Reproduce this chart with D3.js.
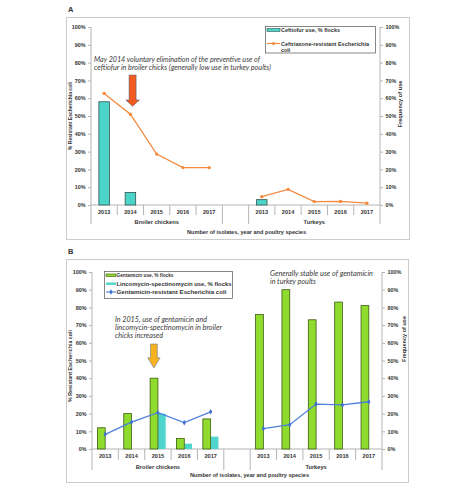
<!DOCTYPE html>
<html><head><meta charset="utf-8">
<script src="https://cdn.jsdelivr.net/npm/d3@7"></script>
<style>body{margin:0;background:#fff} svg{display:block}</style>
</head><body>
<svg id="c" width="474" height="491"></svg>
<script>
// ---------- DATA ----------
const years = ["2013","2014","2015","2016","2017"];
const groups = ["Broiler chickens","Turkeys"];
const yTicks = [0,10,20,30,40,50,60,70,80,90,100];
const xTitle = "Number of isolates, year and poultry species";
const yLeftTitle = "% Resistant Escherichia coli";
const yRightTitle = "Frequency of use";

// Panel A
const ceftiofurUseBroiler   = [58, 7, 0, 0, 0];
const ceftiofurUseTurkey    = [3, 0, 0, 0, 0];
const ceftriaxoneResBroiler = [62.7, 51, 28.6, 21, 21];
const ceftriaxoneResTurkey  = [4.7, 8.8, 1.9, 2, 1];

// Panel B
const gentamicinUseBroiler  = [12, 20, 40, 6, 17];
const gentamicinUseTurkey   = [76, 90, 73, 83, 81];
const lincoUseBroiler       = [0, 0, 20, 3, 7];
const lincoUseTurkey        = [0, 0, 0, 0, 0];
const gentamicinResBroiler  = [8.3, 15.2, 20.5, 14.9, 21];
const gentamicinResTurkey   = [11.5, 13.7, 25.4, 24.9, 26.7];

// ---------- SETUP ----------
const keys = [...years.map(y => "B" + y), "gap", ...years.map(y => "T" + y)];
const combine = (b, t) => [...b, null, ...t];
const svg = d3.select("#c");
const FONT = "'Liberation Sans', Arial, sans-serif";
const IFONT = "Lato, 'Open Sans', sans-serif";
const AXC = "#b5b5b5";
const TXC = "#333";

function label(g, x, y, s, o = {}) {
  const t = g.append("text").attr("x", x).attr("y", y).text(s)
    .attr("font-family", o.family || FONT)
    .attr("font-size", o.size || 5.6)
    .attr("font-weight", o.weight || "bold")
    .attr("font-style", o.style || "normal")
    .attr("fill", o.fill || TXC)
    .attr("text-anchor", o.anchor || "start");
  if (o.len) t.attr("textLength", o.len).attr("lengthAdjust", "spacingAndGlyphs");
  if (o.rot) t.attr("transform", `rotate(${o.rot},${x},${y})`);
  return t;
}

function panel(p) {
  const g = svg.append("g");
  g.append("rect").attr("x", p.frame[0] + 0.5).attr("y", p.frame[1] + 0.5)
    .attr("width", p.frame[2] - p.frame[0]).attr("height", p.frame[3] - p.frame[1])
    .attr("fill", "none").attr("stroke", "#cccccc").attr("stroke-width", 1);
  label(g, p.frame[0] + 2, p.frame[1] - 5, p.name, {size: 7.5});

  const x = d3.scaleBand().domain(keys).range([p.left, p.right]).padding(0);
  const bw = x.bandwidth();
  const y = d3.scaleLinear().domain([0, 100]).range([p.bottom, p.top]);

  // Left axis
  const la = g.append("g").attr("transform", `translate(${p.left},0)`)
    .call(d3.axisLeft(y).tickValues(yTicks).tickFormat(d => d + "%").tickSize(3).tickSizeOuter(0).tickPadding(2.5));
  const ra = g.append("g").attr("transform", `translate(${p.right},0)`)
    .call(d3.axisRight(y).tickValues(yTicks).tickFormat(d => d + "%").tickSize(3).tickSizeOuter(0).tickPadding(2.5));
  [la, ra].forEach(a => {
    a.select(".domain").remove();
    a.selectAll("line").attr("stroke", AXC);
    a.selectAll("text").attr("font-family", FONT).attr("font-weight", "bold")
      .attr("font-size", 5.4).attr("fill", TXC);
  });
  // vertical axis lines (extend through category levels)
  [p.left, p.right].forEach(xx => g.append("line").attr("x1", xx).attr("x2", xx)
    .attr("y1", p.top).attr("y2", p.bottom + p.longSep).attr("stroke", AXC));

  // Category axis
  g.append("line").attr("x1", p.left).attr("x2", p.right).attr("y1", p.bottom).attr("y2", p.bottom).attr("stroke", AXC);
  for (let i = 1; i < keys.length; i++) {
    const xx = p.left + i * bw;
    const long = (i === 5 || i === 6);
    g.append("line").attr("x1", xx).attr("x2", xx).attr("y1", p.bottom)
      .attr("y2", p.bottom + (long ? p.longSep : p.shortSep)).attr("stroke", AXC);
  }
  const xa = g.append("g").attr("transform", `translate(0,${p.bottom})`)
    .call(d3.axisBottom(x).tickFormat(k => k === "gap" ? "" : k.slice(1)).tickSize(0).tickPadding(p.yearPad));
  xa.select(".domain").remove();
  xa.selectAll("text").attr("font-family", FONT).attr("font-weight", "bold").attr("font-size", 5.6).attr("fill", TXC);

  const gB = (x("B2013") + x("B2017") + bw) / 2;
  const gT = (x("T2013") + x("T2017") + bw) / 2;
  label(g, gB, p.groupY, groups[0], {anchor: "middle", size: 5.7});
  label(g, gT, p.groupY, groups[1], {anchor: "middle", size: 5.7});
  label(g, p.titleX, p.titleY, xTitle, {size: 5.6, len: p.titleLen});

  // rotated axis titles
  label(g, p.ylt[0], p.ylt[1], yLeftTitle, {anchor: "middle", rot: -90, size: 5.5, len: p.ylt[2]});
  label(g, p.yrt[0], p.yrt[1], yRightTitle, {anchor: "middle", rot: -90, size: 5.5, len: p.yrt[2]});

  return {g, x, y, bw};
}

function arrowPath(cx, yTop, yHead, yTip, hs, hh) {
  return `M${cx - hs},${yTop} L${cx + hs},${yTop} L${cx + hs},${yHead} L${cx + hh},${yHead} L${cx},${yTip} L${cx - hh},${yHead} L${cx - hs},${yHead} Z`;
}

// ---------- PANEL A ----------
{
  const P = panel({
    name: "A", frame: [66, 17, 409, 239], left: 91, right: 380, top: 27, bottom: 205,
    shortSep: 10, longSep: 19, yearPad: 5, groupY: 223.5, titleX: 187, titleY: 233.5, titleLen: 119,
    ylt: [72, 116, 68], yrt: [402, 104, 47]
  });
  const {g, x, y, bw} = P;
  const use = combine(ceftiofurUseBroiler, ceftiofurUseTurkey);
  const res = combine(ceftriaxoneResBroiler, ceftriaxoneResTurkey);
  const barW = bw * 0.4;
  g.selectAll(".barA").data(use.map((v, i) => ({v, k: keys[i]})).filter(d => d.v))
    .enter().append("rect")
    .attr("x", d => x(d.k) + bw / 2 - barW / 2).attr("width", barW)
    .attr("y", d => y(d.v)).attr("height", d => y(0) - y(d.v))
    .attr("fill", "#4dd4c9").attr("stroke", "#2f5554").attr("stroke-width", 0.8);

  const line = d3.line().defined(d => d != null).x((d, i) => x(keys[i]) + bw / 2).y(d => y(d));
  g.append("path").attr("d", line(res)).attr("fill", "none").attr("stroke", "#f48a3e").attr("stroke-width", 1.3);
  g.selectAll(".mkA").data(res.map((v, i) => ({v, k: keys[i]})).filter(d => d.v != null))
    .enter().append("circle").attr("cx", d => x(d.k) + bw / 2).attr("cy", d => y(d.v)).attr("r", 1.7)
    .attr("fill", "#f48a3e");

  // Legend
  g.append("rect").attr("x", 265.5).attr("y", 26.5).attr("width", 110).attr("height", 26.5)
    .attr("fill", "#fff").attr("stroke", "#555").attr("stroke-width", 0.7);
  g.append("rect").attr("x", 267).attr("y", 28.5).attr("width", 13).attr("height", 3)
    .attr("fill", "#4dd4c9").attr("stroke", "#2f5554").attr("stroke-width", 0.6);
  label(g, 281, 32, "Ceftiofur use, % flocks", {size: 5.4, len: 59});
  g.append("line").attr("x1", 267).attr("x2", 280).attr("y1", 43.5).attr("y2", 43.5).attr("stroke", "#f48a3e").attr("stroke-width", 1.2);
  g.append("circle").attr("cx", 273.5).attr("cy", 43.5).attr("r", 1.5).attr("fill", "#f48a3e");
  label(g, 281, 45.5, "Ceftriaxone-resistant Escherichia", {size: 5.4, len: 88});
  label(g, 281, 52.3, "coli", {size: 5.4});

  // Annotation
  label(g, 94, 61.5, "May 2014 voluntary elimination of the preventive use of", {family: IFONT, weight: "normal", style: "italic", size: 6.8, len: 166, fill: "#3a3a3a"});
  label(g, 94, 69.5, "ceftiofur in broiler chicks (generally low use in turkey poults)", {family: IFONT, weight: "normal", style: "italic", size: 6.8, len: 177, fill: "#3a3a3a"});
  const cx = x("B2014") + bw / 2 + 2.2;
  g.append("path").attr("d", arrowPath(cx, y(73), y(59), y(55.5), 3.5, 6.8))
    .attr("fill", "#f25a1f").attr("stroke", "#5a6478").attr("stroke-width", 0.6);
}

// ---------- PANEL B ----------
{
  const P = panel({
    name: "B", frame: [66, 259, 408, 482], left: 92, right: 382, top: 272, bottom: 449,
    shortSep: 11, longSep: 21, yearPad: 5, groupY: 468.8, titleX: 190, titleY: 476.5, titleLen: 119,
    ylt: [72, 366, 72], yrt: [406, 339, 46]
  });
  const {g, x, y, bw} = P;
  const gen = combine(gentamicinUseBroiler, gentamicinUseTurkey);
  const lin = combine(lincoUseBroiler, lincoUseTurkey);
  const res = combine(gentamicinResBroiler, gentamicinResTurkey);
  const inner = d3.scaleBand().domain(["gen", "lin"]).range([bw * 0.205, bw * 0.795]).padding(0);
  const iw = inner.bandwidth();

  g.selectAll(".barL").data(lin.map((v, i) => ({v, k: keys[i]})).filter(d => d.v))
    .enter().append("rect")
    .attr("x", d => x(d.k) + inner("lin")).attr("width", iw)
    .attr("y", d => y(d.v)).attr("height", d => y(0) - y(d.v))
    .attr("fill", "#4fd6cc");
  g.selectAll(".barG").data(gen.map((v, i) => ({v, k: keys[i]})).filter(d => d.v))
    .enter().append("rect")
    .attr("x", d => x(d.k) + inner("gen")).attr("width", iw)
    .attr("y", d => y(d.v)).attr("height", d => y(0) - y(d.v))
    .attr("fill", "#8fdb2e").attr("stroke", "#3d5c12").attr("stroke-width", 0.8);

  const line = d3.line().defined(d => d != null).x((d, i) => x(keys[i]) + bw / 2).y(d => y(d));
  g.append("path").attr("d", line(res)).attr("fill", "none").attr("stroke", "#4d80dc").attr("stroke-width", 1.3);
  const diamond = d3.symbol().type(d3.symbolDiamond).size(9);
  g.selectAll(".mkB").data(res.map((v, i) => ({v, k: keys[i]})).filter(d => d.v != null))
    .enter().append("path").attr("d", diamond)
    .attr("transform", d => `translate(${x(d.k) + bw / 2},${y(d.v)})`).attr("fill", "#3f6fcf");

  // Legend
  g.append("rect").attr("x", 104.5).attr("y", 271.5).attr("width", 128).attr("height", 27)
    .attr("fill", "#fff").attr("stroke", "#555").attr("stroke-width", 0.7);
  g.append("rect").attr("x", 106).attr("y", 274).attr("width", 10).attr("height", 2.6)
    .attr("fill", "#8fdb2e").attr("stroke", "#3d5c12").attr("stroke-width", 0.6);
  label(g, 116.5, 277.3, "Gentamicin use, % flocks", {size: 5.4, len: 57});
  g.append("rect").attr("x", 106).attr("y", 282.5).attr("width", 10).attr("height", 2.4).attr("fill", "#4fd6cc");
  label(g, 116.5, 285.7, "Lincomycin-spectinomycin use, % flocks", {size: 5.4, len: 115});
  g.append("line").attr("x1", 106).attr("x2", 116).attr("y1", 292).attr("y2", 292).attr("stroke", "#4d80dc").attr("stroke-width", 1.1);
  g.append("path").attr("d", diamond).attr("transform", "translate(111,292)").attr("fill", "#3f6fcf");
  label(g, 116.5, 294, "Gentamicin-resistant  Escherichia coli", {size: 5.4, len: 110});

  // Annotations
  const it = (xx, yy, s, len) => label(g, xx, yy, s, {family: IFONT, weight: "normal", style: "italic", size: 6.8, len, fill: "#3a3a3a"});
  it(115, 321.5, "In 2015, use of gentamicin and", 92);
  it(115, 329.8, "lincomycin-spectinomycin in broiler", 107);
  it(115, 338.2, "chicks increased", 48);
  it(270, 275.8, "Generally stable use of gentamicin", 103);
  it(270, 284.3, "in turkey poults", 46);

  const cx = x("B2015") + bw / 2 - 4;
  g.append("path").attr("d", arrowPath(cx, y(59.3), y(51.5), y(45.8), 3.4, 6.2))
    .attr("fill", "#f7b21f").attr("stroke", "#6a7b9a").attr("stroke-width", 0.6);
}
</script>
</body></html>
